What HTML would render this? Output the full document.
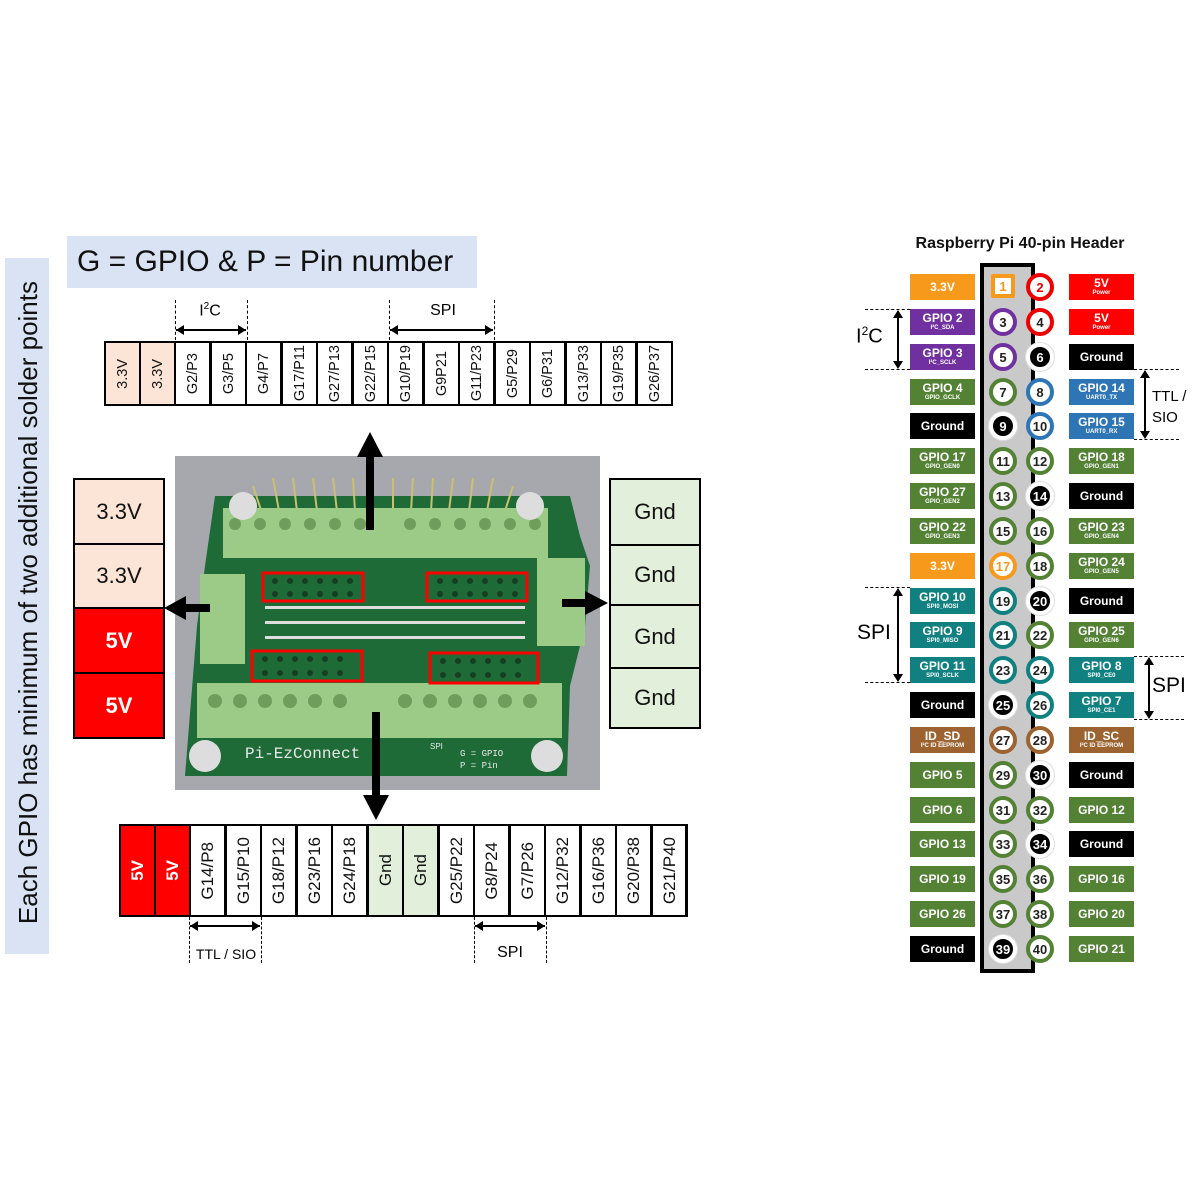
<!DOCTYPE html>
<html><head><meta charset="utf-8"><style>
*{margin:0;padding:0;box-sizing:border-box}
body{width:1200px;height:1200px;background:#fff;position:relative;overflow:hidden;font-family:"Liberation Sans",sans-serif}
div{position:absolute}
.vb{border:2px solid #000;display:flex;align-items:center;justify-content:center;font-size:17px;color:#111}
.vb span{writing-mode:vertical-rl;transform:rotate(180deg);white-space:nowrap}
.tp{font-size:14.5px}
.hb{border:2px solid #000;display:flex;align-items:center;justify-content:center;font-size:22px;color:#111}
.pk{background:#fce4d6}.rd{background:#f00;color:#fff;font-weight:bold}.gn{background:#e2efda}
.lb{width:65px;height:26px;color:#fff;font-weight:bold;font-size:12px;line-height:13px;text-align:center;display:flex;flex-direction:column;justify-content:center}
.lb small{font-size:6px;line-height:7px}
.L{left:910px}.R{left:1069px}
.o{background:#f79a1c}.pu{background:#7030a0}.g{background:#548235}.k{background:#000}.b{background:#2e75b6}.t{background:#108080}.br{background:#9c6330}.r{background:#f00}
.p{width:28px;height:28px;border-radius:50%;border:4px solid;background:#fff;font-size:13px;font-weight:bold;display:flex;align-items:center;justify-content:center;color:#222;margin-top:-1px}
.A{left:989px}.B{left:1026px}
.cg{border-color:#548235}.cp{border-color:#7030a0}.cr{border-color:#e00}.cb{border-color:#2e75b6}.ct{border-color:#108080}.co{border-color:#f79a1c}.cbr{border-color:#9c6330}
.ck{border-color:#fff;background:#000;color:#fff;box-shadow:0 0 0 1px #ddd}
.dh{border-top:1px dashed #000;height:0}
.dv{border-left:1px dashed #000;width:0}
</style></head><body>

<div style="left:5px;top:258px;width:44px;height:696px;background:#dae3f3"></div>
<div style="left:10px;top:258px;width:36px;height:690px;display:flex;align-items:center;justify-content:center"><span style="writing-mode:vertical-rl;transform:rotate(180deg);font-size:26px;white-space:nowrap;color:#111">Each GPIO has minimum of two additional solder points</span></div>

<div style="left:67px;top:236px;width:410px;height:52px;background:#dae3f3;font-size:30px;line-height:52px;padding-left:10px;color:#111">G = GPIO &amp; P = Pin number</div>

<div class="dv" style="left:175px;top:300px;height:40px"></div>
<div class="dv" style="left:247px;top:300px;height:40px"></div>
<div style="left:176px;top:329px;width:70px;height:2px;background:#000"></div>
<div style="left:176px;top:325px;border-right:8px solid #000;border-top:5px solid transparent;border-bottom:5px solid transparent"></div>
<div style="left:238px;top:325px;border-left:8px solid #000;border-top:5px solid transparent;border-bottom:5px solid transparent"></div>
<div style="left:185px;top:301px;width:50px;text-align:center;font-size:16px">I<sup style="font-size:10px">2</sup>C</div>
<div class="dv" style="left:389px;top:300px;height:40px"></div>
<div class="dv" style="left:494px;top:300px;height:40px"></div>
<div style="left:390px;top:329px;width:103px;height:2px;background:#000"></div>
<div style="left:390px;top:325px;border-right:8px solid #000;border-top:5px solid transparent;border-bottom:5px solid transparent"></div>
<div style="left:485px;top:325px;border-left:8px solid #000;border-top:5px solid transparent;border-bottom:5px solid transparent"></div>
<div style="left:418px;top:302px;width:50px;text-align:center;font-size:16px">SPI</div>

<div class="vb tp pk" style="left:104px;top:341px;width:37px;height:65px"><span>3.3V</span></div>
<div class="vb tp pk" style="left:139px;top:341px;width:37px;height:65px"><span>3.3V</span></div>
<div class="vb tp" style="left:174px;top:341px;width:37px;height:65px"><span>G2/P3</span></div>
<div class="vb tp" style="left:210px;top:341px;width:37px;height:65px"><span>G3/P5</span></div>
<div class="vb tp" style="left:245px;top:341px;width:37px;height:65px"><span>G4/P7</span></div>
<div class="vb tp" style="left:281px;top:341px;width:37px;height:65px"><span>G17/P11</span></div>
<div class="vb tp" style="left:316px;top:341px;width:37px;height:65px"><span>G27/P13</span></div>
<div class="vb tp" style="left:352px;top:341px;width:37px;height:65px"><span>G22/P15</span></div>
<div class="vb tp" style="left:387px;top:341px;width:37px;height:65px"><span>G10/P19</span></div>
<div class="vb tp" style="left:423px;top:341px;width:37px;height:65px"><span>G9P21</span></div>
<div class="vb tp" style="left:458px;top:341px;width:37px;height:65px"><span>G11/P23</span></div>
<div class="vb tp" style="left:494px;top:341px;width:37px;height:65px"><span>G5/P29</span></div>
<div class="vb tp" style="left:529px;top:341px;width:37px;height:65px"><span>G6/P31</span></div>
<div class="vb tp" style="left:565px;top:341px;width:37px;height:65px"><span>G13/P33</span></div>
<div class="vb tp" style="left:600px;top:341px;width:37px;height:65px"><span>G19/P35</span></div>
<div class="vb tp" style="left:636px;top:341px;width:37px;height:65px"><span>G26/P37</span></div>

<div class="hb pk" style="left:73px;top:478px;width:92px;height:67px">3.3V</div>
<div class="hb pk" style="left:73px;top:543px;width:92px;height:66px">3.3V</div>
<div class="hb rd" style="left:73px;top:607px;width:92px;height:67px">5V</div>
<div class="hb rd" style="left:73px;top:672px;width:92px;height:67px">5V</div>
<div class="hb gn" style="left:609px;top:478px;width:92px;height:68px">Gnd</div>
<div class="hb gn" style="left:609px;top:544px;width:92px;height:62px">Gnd</div>
<div class="hb gn" style="left:609px;top:604px;width:92px;height:65px">Gnd</div>
<div class="hb gn" style="left:609px;top:667px;width:92px;height:62px">Gnd</div>

<div style="left:175px;top:456px;width:425px;height:334px;background:#a6a8ae"></div>
<svg style="position:absolute;left:175px;top:456px" width="425" height="334">
<polygon points="40,40 395,40 405,80 415,110 410,170 395,230 392,320 10,320 22,170 30,110" fill="#1e6b38"/>
<g stroke="#c9c070" stroke-width="2">
<line x1="78" y1="30" x2="88" y2="60"/><line x1="98" y1="22" x2="104" y2="55"/><line x1="118" y1="22" x2="122" y2="55"/><line x1="138" y1="22" x2="142" y2="55"/><line x1="158" y1="22" x2="162" y2="55"/><line x1="178" y1="22" x2="180" y2="55"/><line x1="218" y1="22" x2="218" y2="55"/><line x1="238" y1="22" x2="236" y2="55"/><line x1="258" y1="22" x2="256" y2="55"/><line x1="278" y1="22" x2="274" y2="55"/><line x1="298" y1="22" x2="294" y2="55"/><line x1="318" y1="22" x2="312" y2="55"/><line x1="338" y1="30" x2="330" y2="55"/></g>
<rect x="48" y="52" width="325" height="50" fill="#9ccb88"/>
<rect x="22" y="227" width="365" height="55" fill="#9ccb88"/>
<rect x="25" y="118" width="45" height="90" fill="#9ccb88"/>
<rect x="362" y="102" width="48" height="88" fill="#9ccb88"/>
<g fill="#6f9d5c"><circle cx="60" cy="68" r="6"/><circle cx="85" cy="68" r="6"/><circle cx="110" cy="68" r="6"/><circle cx="135" cy="68" r="6"/><circle cx="160" cy="68" r="6"/><circle cx="185" cy="68" r="6"/><circle cx="235" cy="68" r="6"/><circle cx="260" cy="68" r="6"/><circle cx="285" cy="68" r="6"/><circle cx="310" cy="68" r="6"/><circle cx="335" cy="68" r="6"/><circle cx="360" cy="68" r="6"/>
<circle cx="40" cy="245" r="7"/><circle cx="65" cy="245" r="7"/><circle cx="90" cy="245" r="7"/><circle cx="115" cy="245" r="7"/><circle cx="140" cy="245" r="7"/><circle cx="165" cy="245" r="7"/><circle cx="230" cy="245" r="7"/><circle cx="255" cy="245" r="7"/><circle cx="280" cy="245" r="7"/><circle cx="305" cy="245" r="7"/><circle cx="330" cy="245" r="7"/><circle cx="355" cy="245" r="7"/></g>
<g fill="#163f22"><circle cx="100" cy="125" r="3"/><circle cx="115" cy="125" r="3"/><circle cx="130" cy="125" r="3"/><circle cx="145" cy="125" r="3"/><circle cx="160" cy="125" r="3"/><circle cx="175" cy="125" r="3"/><circle cx="100" cy="138" r="3"/><circle cx="115" cy="138" r="3"/><circle cx="130" cy="138" r="3"/><circle cx="145" cy="138" r="3"/><circle cx="160" cy="138" r="3"/><circle cx="175" cy="138" r="3"/>
<circle cx="265" cy="125" r="3"/><circle cx="280" cy="125" r="3"/><circle cx="295" cy="125" r="3"/><circle cx="310" cy="125" r="3"/><circle cx="325" cy="125" r="3"/><circle cx="340" cy="125" r="3"/><circle cx="265" cy="138" r="3"/><circle cx="280" cy="138" r="3"/><circle cx="295" cy="138" r="3"/><circle cx="310" cy="138" r="3"/><circle cx="325" cy="138" r="3"/><circle cx="340" cy="138" r="3"/>
<circle cx="90" cy="203" r="3"/><circle cx="105" cy="203" r="3"/><circle cx="120" cy="203" r="3"/><circle cx="135" cy="203" r="3"/><circle cx="150" cy="203" r="3"/><circle cx="165" cy="203" r="3"/><circle cx="90" cy="217" r="3"/><circle cx="105" cy="217" r="3"/><circle cx="120" cy="217" r="3"/><circle cx="135" cy="217" r="3"/><circle cx="150" cy="217" r="3"/><circle cx="165" cy="217" r="3"/>
<circle cx="268" cy="205" r="3"/><circle cx="283" cy="205" r="3"/><circle cx="298" cy="205" r="3"/><circle cx="313" cy="205" r="3"/><circle cx="328" cy="205" r="3"/><circle cx="343" cy="205" r="3"/><circle cx="268" cy="219" r="3"/><circle cx="283" cy="219" r="3"/><circle cx="298" cy="219" r="3"/><circle cx="313" cy="219" r="3"/><circle cx="328" cy="219" r="3"/><circle cx="343" cy="219" r="3"/></g>
<circle cx="68" cy="50" r="14" fill="#ddd"/><circle cx="355" cy="50" r="14" fill="#ddd"/><circle cx="30" cy="300" r="16" fill="#ddd"/><circle cx="372" cy="300" r="16" fill="#ddd"/>
<g fill="none" stroke="#f00" stroke-width="3"><rect x="88" y="117" width="100" height="28"/><rect x="252" y="117" width="100" height="28"/><rect x="77" y="195" width="110" height="30"/><rect x="255" y="197" width="108" height="30"/></g>
<g fill="#ddd"><rect x="90" y="150" width="260" height="3"/><rect x="90" y="165" width="260" height="3"/><rect x="90" y="180" width="260" height="3"/></g>
<text x="70" y="302" font-family="Liberation Mono" font-size="16" fill="#e8e8e8">Pi-EzConnect</text>
<text x="285" y="300" font-family="Liberation Mono" font-size="9" fill="#e8e8e8">G = GPIO</text>
<text x="285" y="312" font-family="Liberation Mono" font-size="9" fill="#e8e8e8">P = Pin</text>
<text x="255" y="293" font-family="Liberation Sans" font-size="8" fill="#e8e8e8">SPI</text>
</svg>
<div style="left:366px;top:455px;width:8px;height:75px;background:#000"></div>
<div style="left:357px;top:432px;border-bottom:25px solid #000;border-left:13px solid transparent;border-right:13px solid transparent"></div>
<div style="left:372px;top:712px;width:8px;height:85px;background:#000"></div>
<div style="left:363px;top:795px;border-top:25px solid #000;border-left:13px solid transparent;border-right:13px solid transparent"></div>
<div style="left:185px;top:604px;width:25px;height:8px;background:#000"></div>
<div style="left:164px;top:596px;border-right:22px solid #000;border-top:12px solid transparent;border-bottom:12px solid transparent"></div>
<div style="left:562px;top:599px;width:25px;height:8px;background:#000"></div>
<div style="left:585px;top:591px;border-left:23px solid #000;border-top:12px solid transparent;border-bottom:12px solid transparent"></div>

<div style="left:119px;top:824px;width:568px;height:93px;border:2px solid #000"></div>
<div class="vb rd" style="left:119px;top:824px;width:37px;height:93px"><span>5V</span></div>
<div class="vb rd" style="left:154px;top:824px;width:37px;height:93px"><span>5V</span></div>
<div class="vb" style="left:189px;top:824px;width:37px;height:93px"><span>G14/P8</span></div>
<div class="vb" style="left:225px;top:824px;width:37px;height:93px"><span>G15/P10</span></div>
<div class="vb" style="left:260px;top:824px;width:37px;height:93px"><span>G18/P12</span></div>
<div class="vb" style="left:296px;top:824px;width:37px;height:93px"><span>G23/P16</span></div>
<div class="vb" style="left:331px;top:824px;width:37px;height:93px"><span>G24/P18</span></div>
<div class="vb gn" style="left:367px;top:824px;width:37px;height:93px"><span>Gnd</span></div>
<div class="vb gn" style="left:402px;top:824px;width:37px;height:93px"><span>Gnd</span></div>
<div class="vb" style="left:438px;top:824px;width:37px;height:93px"><span>G25/P22</span></div>
<div class="vb" style="left:473px;top:824px;width:37px;height:93px"><span>G8/P24</span></div>
<div class="vb" style="left:509px;top:824px;width:37px;height:93px"><span>G7/P26</span></div>
<div class="vb" style="left:544px;top:824px;width:37px;height:93px"><span>G12/P32</span></div>
<div class="vb" style="left:580px;top:824px;width:37px;height:93px"><span>G16/P36</span></div>
<div class="vb" style="left:615px;top:824px;width:37px;height:93px"><span>G20/P38</span></div>
<div class="vb" style="left:651px;top:824px;width:37px;height:93px"><span>G21/P40</span></div>

<div class="dv" style="left:189px;top:917px;height:46px"></div>
<div class="dv" style="left:261px;top:917px;height:46px"></div>
<div style="left:190px;top:925px;width:70px;height:2px;background:#000"></div>
<div style="left:190px;top:921px;border-right:8px solid #000;border-top:5px solid transparent;border-bottom:5px solid transparent"></div>
<div style="left:252px;top:921px;border-left:8px solid #000;border-top:5px solid transparent;border-bottom:5px solid transparent"></div>
<div style="left:190px;top:946px;width:72px;text-align:center;font-size:14px">TTL / SIO</div>
<div class="dv" style="left:474px;top:917px;height:46px"></div>
<div class="dv" style="left:546px;top:917px;height:46px"></div>
<div style="left:475px;top:925px;width:70px;height:2px;background:#000"></div>
<div style="left:475px;top:921px;border-right:8px solid #000;border-top:5px solid transparent;border-bottom:5px solid transparent"></div>
<div style="left:537px;top:921px;border-left:8px solid #000;border-top:5px solid transparent;border-bottom:5px solid transparent"></div>
<div style="left:485px;top:944px;width:50px;text-align:center;font-size:16px">SPI</div>

<div style="left:880px;top:235px;width:280px;text-align:center;font-weight:bold;font-size:16px;color:#111">Raspberry Pi 40-pin Header</div>
<div style="left:980px;top:263px;width:55px;height:710px;border:4px solid #000;background:#c9c9c9"></div>

<div class="dh" style="left:865px;top:309px;width:45px"></div>
<div class="dh" style="left:865px;top:369px;width:45px"></div>
<div style="left:897px;top:311px;width:2px;height:56px;background:#000"></div>
<div style="left:893px;top:310px;border-bottom:8px solid #000;border-left:5px solid transparent;border-right:5px solid transparent"></div>
<div style="left:893px;top:361px;border-top:8px solid #000;border-left:5px solid transparent;border-right:5px solid transparent"></div>
<div style="left:856px;top:324px;font-size:20px">I<sup style="font-size:12px">2</sup>C</div>
<div class="dh" style="left:865px;top:587px;width:45px"></div>
<div class="dh" style="left:865px;top:682px;width:45px"></div>
<div style="left:897px;top:589px;width:2px;height:91px;background:#000"></div>
<div style="left:893px;top:588px;border-bottom:8px solid #000;border-left:5px solid transparent;border-right:5px solid transparent"></div>
<div style="left:893px;top:674px;border-top:8px solid #000;border-left:5px solid transparent;border-right:5px solid transparent"></div>
<div style="left:857px;top:621px;font-size:21px">SPI</div>
<div class="dh" style="left:1134px;top:369px;width:45px"></div>
<div class="dh" style="left:1134px;top:439px;width:45px"></div>
<div style="left:1144px;top:371px;width:2px;height:66px;background:#000"></div>
<div style="left:1140px;top:370px;border-bottom:8px solid #000;border-left:5px solid transparent;border-right:5px solid transparent"></div>
<div style="left:1140px;top:431px;border-top:8px solid #000;border-left:5px solid transparent;border-right:5px solid transparent"></div>
<div style="left:1152px;top:386px;font-size:15px;line-height:21px">TTL /<br>SIO</div>
<div class="dh" style="left:1134px;top:656px;width:50px"></div>
<div class="dh" style="left:1134px;top:719px;width:50px"></div>
<div style="left:1148px;top:658px;width:2px;height:59px;background:#000"></div>
<div style="left:1144px;top:657px;border-bottom:8px solid #000;border-left:5px solid transparent;border-right:5px solid transparent"></div>
<div style="left:1144px;top:711px;border-top:8px solid #000;border-left:5px solid transparent;border-right:5px solid transparent"></div>
<div style="left:1152px;top:674px;font-size:21px">SPI</div>

<div class="lb L o" style="top:274px">3.3V</div>
<div class="lb L pu" style="top:309px">GPIO 2<small>I²C_SDA</small></div>
<div class="lb L pu" style="top:344px">GPIO 3<small>I²C_SCLK</small></div>
<div class="lb L g" style="top:379px">GPIO 4<small>GPIO_GCLK</small></div>
<div class="lb L k" style="top:413px">Ground</div>
<div class="lb L g" style="top:448px">GPIO 17<small>GPIO_GEN0</small></div>
<div class="lb L g" style="top:483px">GPIO 27<small>GPIO_GEN2</small></div>
<div class="lb L g" style="top:518px">GPIO 22<small>GPIO_GEN3</small></div>
<div class="lb L o" style="top:553px">3.3V</div>
<div class="lb L t" style="top:588px">GPIO 10<small>SPI0_MOSI</small></div>
<div class="lb L t" style="top:622px">GPIO 9<small>SPI0_MISO</small></div>
<div class="lb L t" style="top:657px">GPIO 11<small>SPI0_SCLK</small></div>
<div class="lb L k" style="top:692px">Ground</div>
<div class="lb L br" style="top:727px">ID_SD<small>I²C ID EEPROM</small></div>
<div class="lb L g" style="top:762px">GPIO 5</div>
<div class="lb L g" style="top:797px">GPIO 6</div>
<div class="lb L g" style="top:831px">GPIO 13</div>
<div class="lb L g" style="top:866px">GPIO 19</div>
<div class="lb L g" style="top:901px">GPIO 26</div>
<div class="lb L k" style="top:936px">Ground</div>
<div class="lb R r" style="top:274px">5V<small>Power</small></div>
<div class="lb R r" style="top:309px">5V<small>Power</small></div>
<div class="lb R k" style="top:344px">Ground</div>
<div class="lb R b" style="top:379px">GPIO 14<small>UART0_TX</small></div>
<div class="lb R b" style="top:413px">GPIO 15<small>UART0_RX</small></div>
<div class="lb R g" style="top:448px">GPIO 18<small>GPIO_GEN1</small></div>
<div class="lb R k" style="top:483px">Ground</div>
<div class="lb R g" style="top:518px">GPIO 23<small>GPIO_GEN4</small></div>
<div class="lb R g" style="top:553px">GPIO 24<small>GPIO_GEN5</small></div>
<div class="lb R k" style="top:588px">Ground</div>
<div class="lb R g" style="top:622px">GPIO 25<small>GPIO_GEN6</small></div>
<div class="lb R t" style="top:657px">GPIO 8<small>SPI0_CE0</small></div>
<div class="lb R t" style="top:692px">GPIO 7<small>SPI0_CE1</small></div>
<div class="lb R br" style="top:727px">ID_SC<small>I²C ID EEPROM</small></div>
<div class="lb R k" style="top:762px">Ground</div>
<div class="lb R g" style="top:797px">GPIO 12</div>
<div class="lb R k" style="top:831px">Ground</div>
<div class="lb R g" style="top:866px">GPIO 16</div>
<div class="lb R g" style="top:901px">GPIO 20</div>
<div class="lb R g" style="top:936px">GPIO 21</div>

<div class="p co" style="top:274px;border-radius:2px;width:24px;height:24px;left:991px;color:#f79a1c;margin-top:0">1</div>
<div class="p cr B" style="top:274px;color:#e00">2</div>
<div class="p cp A" style="top:309px">3</div>
<div class="p cr B" style="top:309px">4</div>
<div class="p cp A" style="top:344px">5</div>
<div class="p ck B" style="top:344px">6</div>
<div class="p cg A" style="top:379px">7</div>
<div class="p cb B" style="top:379px">8</div>
<div class="p ck A" style="top:413px">9</div>
<div class="p cb B" style="top:413px">10</div>
<div class="p cg A" style="top:448px">11</div>
<div class="p cg B" style="top:448px">12</div>
<div class="p cg A" style="top:483px">13</div>
<div class="p ck B" style="top:483px">14</div>
<div class="p cg A" style="top:518px">15</div>
<div class="p cg B" style="top:518px">16</div>
<div class="p co A" style="top:553px;color:#f79a1c">17</div>
<div class="p cg B" style="top:553px">18</div>
<div class="p ct A" style="top:588px">19</div>
<div class="p ck B" style="top:588px">20</div>
<div class="p ct A" style="top:622px">21</div>
<div class="p cg B" style="top:622px">22</div>
<div class="p ct A" style="top:657px">23</div>
<div class="p ct B" style="top:657px">24</div>
<div class="p ck A" style="top:692px">25</div>
<div class="p ct B" style="top:692px">26</div>
<div class="p cbr A" style="top:727px">27</div>
<div class="p cbr B" style="top:727px">28</div>
<div class="p cg A" style="top:762px">29</div>
<div class="p ck B" style="top:762px">30</div>
<div class="p cg A" style="top:797px">31</div>
<div class="p cg B" style="top:797px">32</div>
<div class="p cg A" style="top:831px">33</div>
<div class="p ck B" style="top:831px">34</div>
<div class="p cg A" style="top:866px">35</div>
<div class="p cg B" style="top:866px">36</div>
<div class="p cg A" style="top:901px">37</div>
<div class="p cg B" style="top:901px">38</div>
<div class="p ck A" style="top:936px">39</div>
<div class="p cg B" style="top:936px">40</div>
</body></html>
